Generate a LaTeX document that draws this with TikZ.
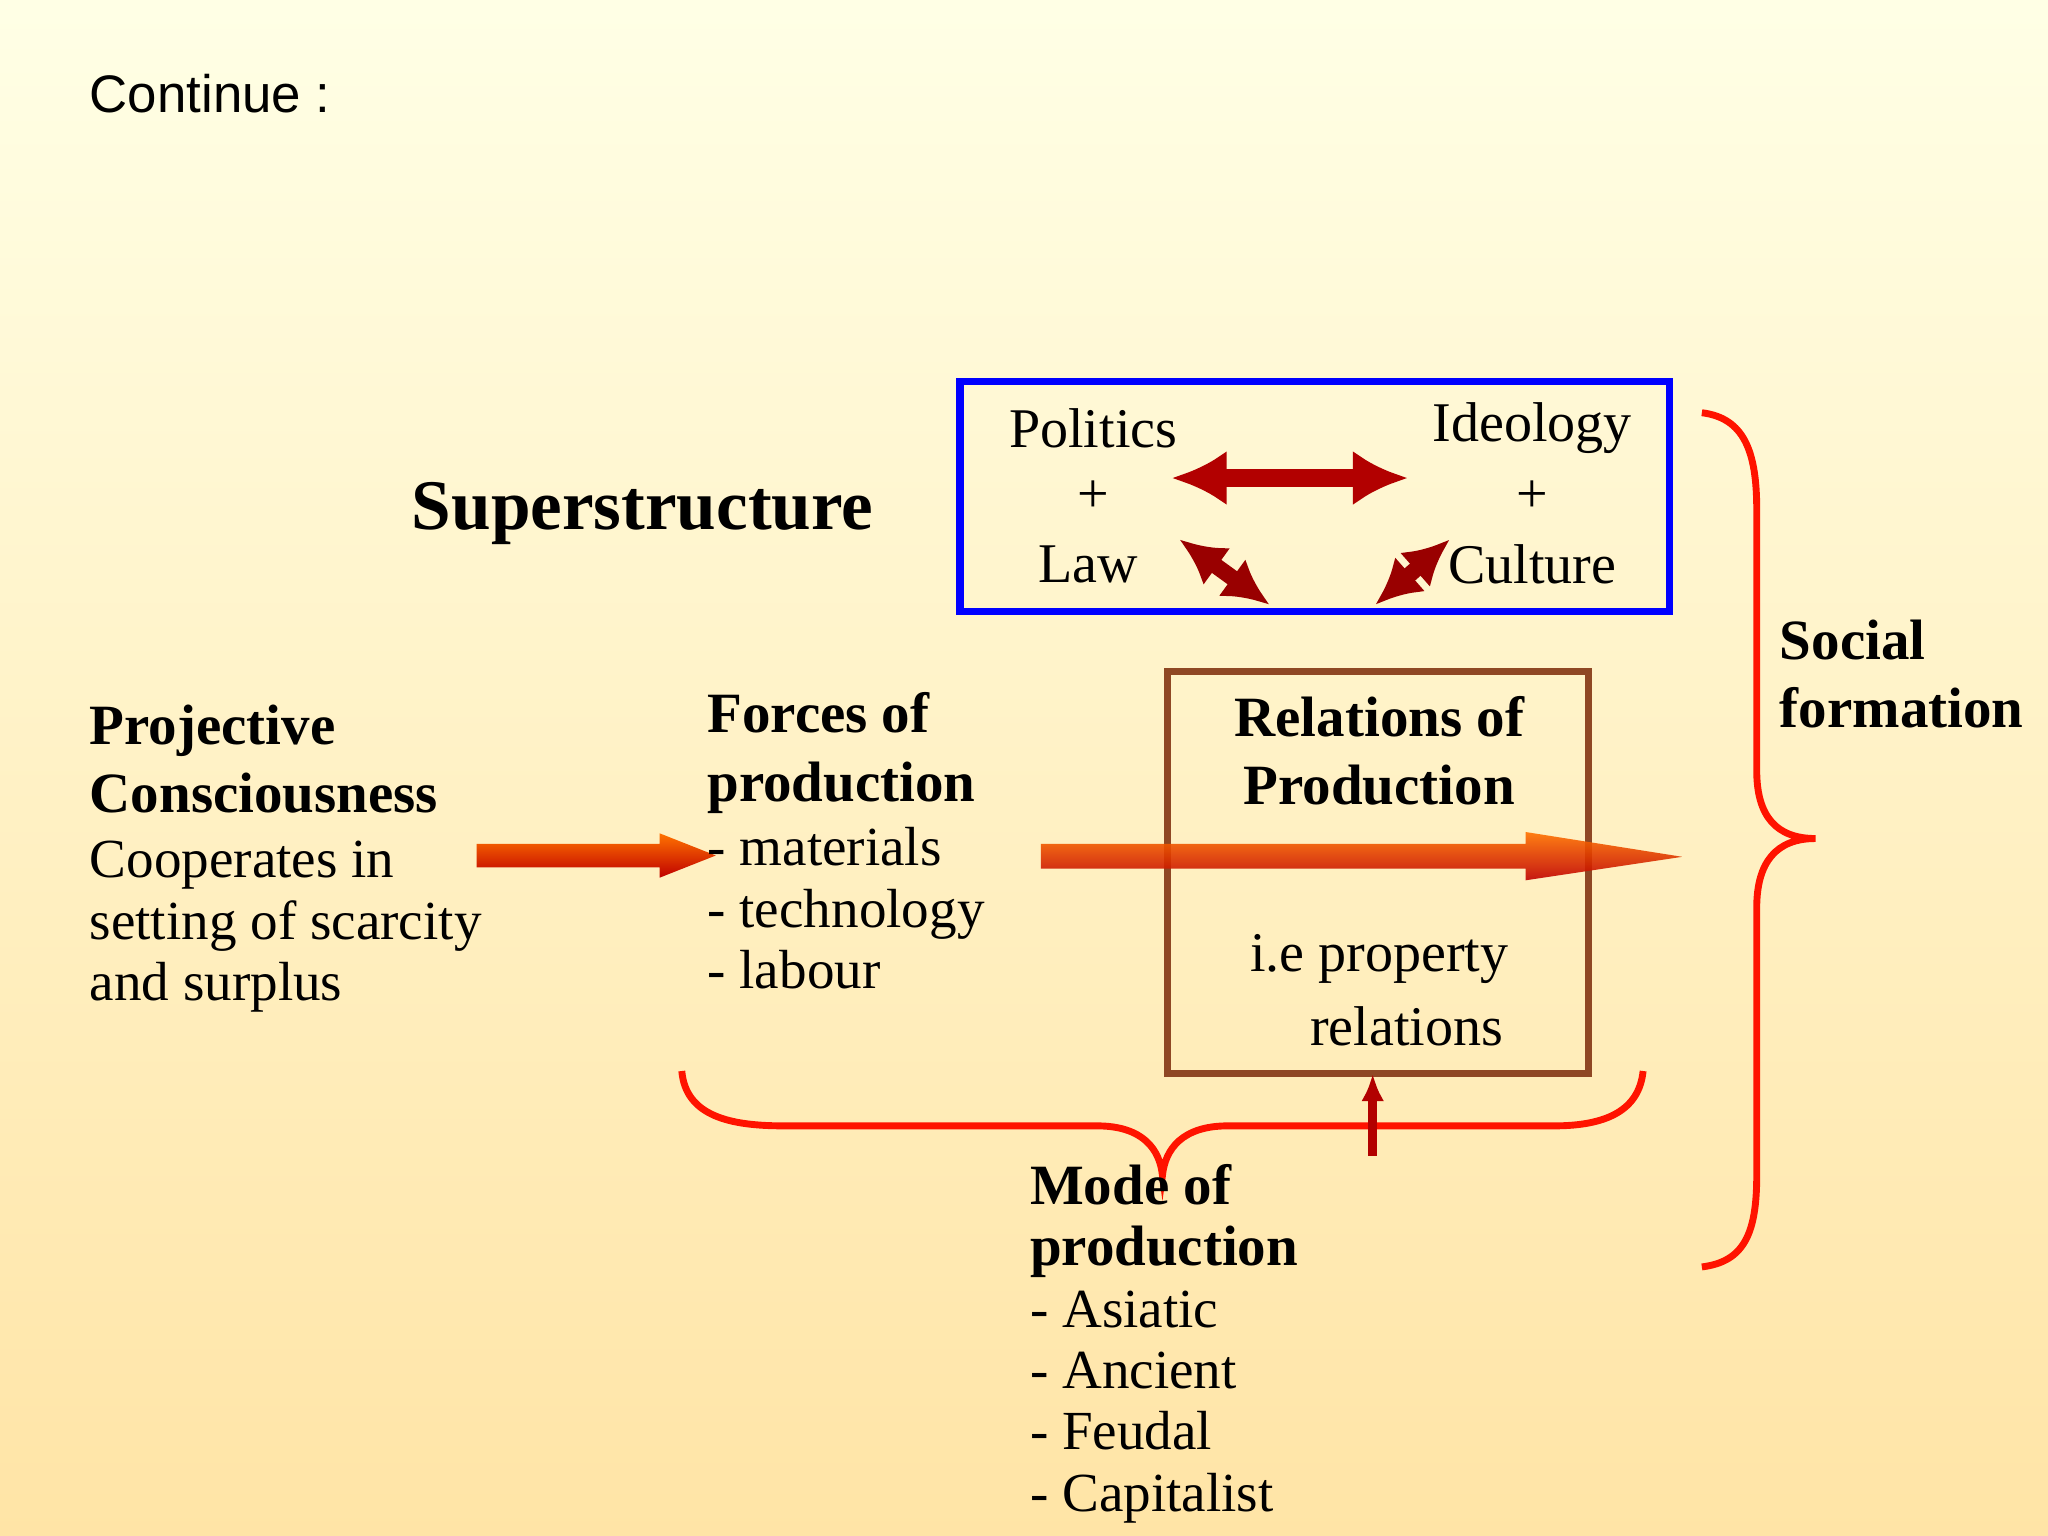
\documentclass[tikz,border=0pt]{standalone}
\usepackage{fontspec}
\setmainfont{Liberation Serif}
\newfontfamily\arialf{Liberation Sans}
\usetikzlibrary{arrows.meta}
\begin{document}
\begin{tikzpicture}[x=0.01cm,y=-0.01cm,
  lbl/.style={font=\fontsize{12.2}{14}\selectfont,inner sep=0pt},
  hd/.style={font=\bfseries\fontsize{12.4}{14}\selectfont,inner sep=0pt,anchor=base west},
  txt/.style={font=\fontsize{12}{14}\selectfont,inner sep=0pt,anchor=base west},
  redl/.style={draw=red!85!orange,line width=1.5pt},
  darr/.style={line width=4pt,draw=red!60!black,{Latex[length=12pt,width=12pt]}-{Latex[length=12pt,width=12pt]}}]
\shade[top color=yellow!10!white,bottom color=yellow!40!orange!35!white] (0,0) rectangle (1568,1176);
\useasboundingbox (0,0) rectangle (1568,1176);
\node[anchor=west,inner sep=0pt,font=\arialf\fontsize{11.5}{14}\selectfont] (cont) at (68,72) {Continue :};
\draw[blue,line width=1.6pt] (735,292) rectangle (1278,468);
\node[lbl] (pol) at (837,328) {Politics};
\node[lbl] (p1) at (837,380) {+};
\node[lbl] (law) at (833,432) {Law};
\node[lbl] (ide) at (1173,328) {Ideology};
\node[lbl] (p2) at (1173,380) {+};
\node[lbl] (cul) at (1173,432) {Culture};
\coordinate (hl) at (897,366); \coordinate (hr) at (1078,366);
\draw[darr,draw=red!70!black] (hl) -- (hr);
\coordinate (d1a) at (903,413); \coordinate (d1b) at (972,463);
\coordinate (d2a) at (1110,413); \coordinate (d2b) at (1053,463);
\draw[darr,line width=3.5pt,{Latex[length=10pt,width=10pt]}-{Latex[length=10pt,width=10pt]}] (d1a) -- (d1b);
\draw[darr,line width=3.5pt,{Latex[length=10pt,width=10pt]}-{Latex[length=10pt,width=10pt]}] (d2a) -- (d2b);
\node[font=\bfseries\fontsize{15.5}{18}\selectfont,inner sep=0pt] (sup) at (492,393) {Superstructure};
\node[hd] (pc1) at (68,570) {Projective};
\node[hd] (pc2) at (68,622) {Consciousness};
\node[txt] (pc3) at (68,672) {Cooperates in};
\node[txt] (pc4) at (68,719) {setting of scarcity};
\node[txt] (pc5) at (68,766) {and surplus};
\shade[top color=orange!90!red,bottom color=red!75!black] (365,646) -- (505,646) -- (505,638) -- (548,655) -- (505,672) -- (505,664) -- (365,664) -- cycle;
\node[hd] (f1) at (541,561) {Forces of};
\node[hd] (f2) at (541,614) {production};
\node[txt] (f3) at (541,663) {- materials};
\node[txt] (f4) at (541,710) {- technology};
\node[txt] (f5) at (541,757) {- labour};
\draw[draw=brown!80!red!70!black,line width=1.6pt] (894,514) rectangle (1216,822);
\node[font=\bfseries\fontsize{12.4}{14}\selectfont,inner sep=0pt] (r1) at (1056,549) {Relations of};
\node[font=\bfseries\fontsize{12.4}{14}\selectfont,inner sep=0pt] (r2) at (1056,601) {Production};
\node[lbl] (r3) at (1056,734) {i.e property};
\node[lbl] (r4) at (1077,786) {relations};
\shade[top color=orange!90!red,bottom color=red!75!black,opacity=0.9] (797,646) -- (1168,646) -- (1168,637) -- (1288,656) -- (1168,674) -- (1168,665) -- (797,665) -- cycle;
\draw[redl] (522,820) .. controls (525,855) and (560,862) .. (600,862) -- (840,862) .. controls (875,862) and (888,880) .. (890,900) .. controls (892,880) and (905,862) .. (940,862) -- (1190,862) .. controls (1230,862) and (1255,850) .. (1258,820);
\coordinate (ua) at (1051,885); \coordinate (ub) at (1051,822);
\draw[red!70!black,line width=2pt,-{Latex[length=6pt,width=5pt]}] (ua) -- (ub);
\draw[redl] (1303,316) .. controls (1335,320) and (1345,345) .. (1345,390) -- (1345,590) .. controls (1345,625) and (1360,642) .. (1390,642) .. controls (1360,642) and (1345,660) .. (1345,695) -- (1345,900) .. controls (1345,945) and (1335,966) .. (1303,970);
\node[hd] (s1) at (1362,505) {Social};
\node[hd] (s2) at (1362,557) {formation};
\node[hd] (m1) at (788,922) {Mode of};
\node[hd] (m2) at (788,969) {production};
\node[txt] (m3) at (788,1016) {- Asiatic};
\node[txt] (m4) at (788,1063) {- Ancient};
\node[txt] (m5) at (788,1110) {- Feudal};
\node[txt] (m6) at (788,1157) {- Capitalist};
\end{tikzpicture}
\end{document}
